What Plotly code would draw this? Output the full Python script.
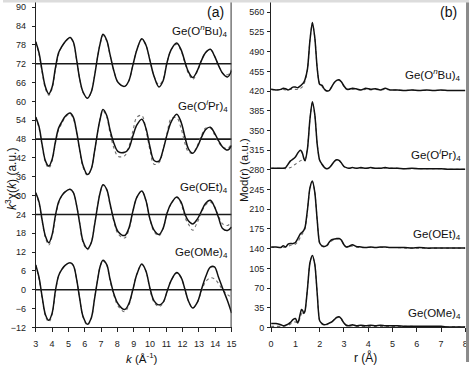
import plotly.graph_objects as go

W, H = 474, 367

# ---------------- Data: panel (a) k^3 chi(k) ----------------
K = [3.0, 3.2, 3.4, 3.6, 3.8, 4.0, 4.2, 4.4, 4.6, 4.8, 5.1, 5.3, 5.5, 5.7, 5.9, 6.17, 6.4, 6.6,
     6.8, 6.95, 7.12, 7.35, 7.55, 7.8, 8.05, 8.45, 8.7, 8.95, 9.2, 9.5, 9.75, 10.0, 10.25, 10.55,
     10.8, 11.05, 11.3, 11.64, 11.9, 12.15, 12.35, 12.62, 12.9, 13.15, 13.4, 13.7, 13.95, 14.2,
     14.45, 14.75, 15.0]

BU_EXP = [79.0, 75.5, 69.5, 64.5, 62.4, 64.5, 70.5, 75.5, 77.5, 79.0, 80.4, 79.0, 73.5, 67.0, 63.0,
          61.0, 63.0, 68.0, 74.5, 78.5, 81.4, 79.5, 75.0, 69.5, 66.0, 64.8, 66.5, 71.5, 76.5, 80.0,
          78.0, 73.0, 68.0, 64.6, 66.5, 72.5, 76.5, 78.6, 76.5, 72.5, 69.5, 67.6, 69.8, 73.0, 75.5,
          76.6, 74.5, 71.5, 69.0, 67.8, 69.8]
BU_FIT = [79.0, 75.0, 69.0, 64.0, 62.0, 64.0, 70.0, 75.0, 77.5, 79.0, 80.2, 78.8, 73.5, 67.0, 62.8,
          61.0, 63.0, 68.0, 74.5, 78.5, 81.0, 79.2, 74.8, 69.5, 66.0, 64.8, 66.5, 71.5, 76.5, 79.8,
          78.0, 73.0, 68.0, 65.3, 67.0, 72.5, 76.5, 78.2, 76.2, 72.0, 69.0, 67.0, 69.5, 73.0, 75.5,
          76.5, 74.5, 71.5, 69.0, 68.5, 70.2]

PR_EXP = [55.0, 52.0, 46.0, 41.0, 39.4, 41.5, 47.0, 51.5, 53.5, 55.2, 56.3, 55.0, 50.5, 44.5, 39.5,
          36.7, 38.5, 44.0, 50.5, 54.5, 57.4, 55.5, 51.0, 46.5, 44.0, 43.8, 45.0, 49.0, 52.5, 54.3,
          51.5, 45.5, 41.2, 41.0, 44.5, 49.5, 53.5, 55.9, 53.5, 48.5, 45.0, 43.5, 45.5, 48.5, 51.0,
          51.8, 50.0, 47.5, 45.5, 44.5, 46.0]
PR_FIT = [55.0, 51.5, 45.5, 40.5, 38.8, 41.0, 46.5, 51.0, 53.0, 55.0, 56.0, 54.5, 50.0, 44.0, 39.0,
          36.4, 38.5, 44.0, 50.5, 54.5, 57.0, 55.0, 50.0, 45.0, 42.5, 42.7, 45.5, 50.5, 55.0, 55.5,
          51.0, 44.5, 40.0, 40.5, 44.5, 50.0, 54.5, 54.8, 51.5, 46.5, 44.0, 43.5, 46.0, 49.0, 51.5,
          51.5, 49.5, 47.0, 45.5, 45.0, 46.5]

ET_EXP = [30.9, 28.0, 22.0, 17.0, 15.0, 17.5, 23.5, 28.0, 30.0, 31.2, 32.0, 31.0, 27.0, 21.0, 15.5,
          13.1, 15.0, 20.5, 27.0, 31.0, 33.5, 32.0, 27.5, 22.0, 18.5, 17.3, 19.5, 25.0, 29.5, 31.5,
          28.5, 22.5, 19.0, 17.6, 19.5, 24.5, 27.5, 29.6, 28.0, 24.0, 22.0, 21.0, 22.5, 25.0, 27.5,
          28.5, 26.5, 23.0, 19.5, 18.9, 20.0]
ET_FIT = [30.9, 27.5, 21.5, 16.5, 14.3, 17.0, 23.0, 27.5, 30.0, 31.2, 32.0, 31.0, 27.0, 21.0, 15.0,
          12.8, 15.0, 20.5, 27.0, 31.0, 33.3, 31.8, 27.0, 21.5, 17.8, 16.5, 19.0, 25.0, 29.5, 31.5,
          28.5, 22.5, 18.5, 17.2, 19.5, 24.5, 27.5, 29.4, 27.5, 23.0, 21.0, 19.0, 21.5, 24.5, 27.0,
          28.0, 26.5, 23.5, 21.0, 20.5, 21.5]

ME_EXP = [7.9, 4.0, -2.5, -8.0, -9.7, -7.5, -0.5, 4.5, 6.5, 7.8, 8.6, 7.8, 3.5, -3.0, -8.5,
          -11.0, -9.0, -3.0, 3.5, 7.5, 9.4, 8.0, 3.5, -1.5, -4.5, -6.3, -4.5, 0.0, 5.0, 8.2,
          6.0, 0.5, -3.5, -4.8, -4.0, -0.5, 3.0, 5.5, 4.0, 0.0, -3.5, -5.8, -4.0, 0.0, 4.0,
          7.2, 7.3, 4.0, 0.5, -3.5, -7.4]
ME_FIT = [7.9, 3.5, -3.0, -8.5, -10.2, -8.0, -1.0, 4.5, 6.5, 7.8, 8.6, 7.8, 3.5, -3.0, -8.8,
          -11.3, -9.2, -3.0, 3.5, 7.5, 9.2, 7.8, 3.0, -2.0, -5.2, -7.0, -5.0, 0.0, 5.0, 8.0,
          6.0, 0.0, -4.0, -5.3, -4.3, -0.5, 3.0, 5.3, 3.8, 0.0, -3.5, -5.8, -4.0, -0.5, 2.5,
          3.8, 3.5, 2.0, 0.0, -1.5, -2.5]

BASELINES_A = [72, 48, 24, 0]
YTICKS_A = list(range(-12, 91, 6))
XTICKS_A = list(range(3, 16))

# ---------------- Data: panel (b) Mod(r) ----------------
R = [0.0, 0.2, 0.4, 0.5, 0.6, 0.7, 0.8, 0.9, 1.0, 1.1, 1.2, 1.25, 1.3, 1.35, 1.4, 1.5, 1.6, 1.7,
     1.8, 1.9, 2.0, 2.1, 2.2, 2.3, 2.4, 2.5, 2.6, 2.7, 2.8, 2.9, 3.0, 3.1, 3.2, 3.35, 3.5, 3.7,
     3.9, 4.1, 4.3, 4.5, 4.7, 4.9, 5.2, 5.5, 5.8, 6.1, 6.4, 6.7, 7.0, 7.3, 7.6, 8.0]

BU_FT = [423, 422, 423, 425, 424, 422, 424, 427, 427, 426, 429, 431, 433, 436, 441, 460, 510, 542,
         515, 460, 432, 430, 423, 420, 421, 428, 435, 439, 440, 436, 429, 424, 423, 425, 424, 422,
         425, 423, 424, 422, 425, 422, 422, 421, 422, 421, 422, 421, 422, 421, 421, 421]
BU_FTFIT = [423, 422, 423, 423, 422, 422, 423, 424, 423, 423, 424, 426, 428, 432, 438, 458, 510, 541,
            515, 460, 432, 428, 422, 420, 421, 428, 435, 439, 439, 435, 428, 423, 422, 423, 423, 422,
            423, 422, 423, 422, 423, 422, 422, 421, 422, 421, 421, 421, 421, 421, 421, 421]

PR_FT = [283, 283, 283, 283, 284, 290, 296, 299, 303, 310, 315, 313, 308, 300, 296, 318, 370, 401,
         378, 325, 297, 290, 284, 282, 284, 289, 295, 298, 297, 292, 286, 284, 283, 284, 283, 284,
         283, 284, 283, 283, 284, 283, 283, 282, 283, 282, 282, 282, 282, 281, 281, 281]
PR_FTFIT = [283, 283, 283, 283, 282, 283, 284, 287, 290, 293, 296, 297, 298, 299, 300, 320, 370, 400,
            378, 325, 297, 289, 284, 282, 284, 289, 295, 298, 297, 292, 286, 283, 283, 283, 283, 283,
            283, 283, 283, 283, 283, 283, 283, 282, 282, 282, 282, 282, 282, 281, 281, 281]

ET_FT = [143, 143, 142, 145, 143, 148, 149, 149, 151, 158, 166, 168, 170, 173, 178, 210, 248, 260,
         240, 190, 150, 145, 144, 146, 152, 156, 157, 158, 158, 155, 147, 143, 144, 147, 144, 143,
         142, 143, 142, 143, 143, 142, 142, 142, 141, 142, 141, 141, 141, 141, 141, 141]
ET_FTFIT = [142, 142, 142, 142, 143, 144, 146, 147, 148, 152, 160, 164, 167, 171, 176, 208, 247, 259,
            240, 190, 150, 144, 143, 145, 150, 154, 156, 157, 157, 154, 146, 143, 143, 145, 143, 142,
            142, 142, 142, 142, 142, 142, 142, 141, 141, 141, 141, 141, 141, 141, 141, 141]

ME_FT = [7, 7, 5, 3, 4, 6, 9, 14, 16, 8, 24, 32, 30, 25, 30, 70, 115, 128, 112, 60, 12, 7, 5,
         6, 8, 10, 14, 18, 19, 15, 8, 4, 3, 5, 3, 4, 3, 4, 3, 4, 3, 3, 3, 2, 2, 2, 2, 2, 2, 1, 1, 1]
ME_FTFIT = [2, 2, 2, 2, 3, 4, 6, 9, 10, 8, 18, 24, 26, 24, 30, 70, 115, 127, 112, 60, 12, 6, 4,
            5, 8, 10, 14, 17, 18, 14, 7, 3, 2, 3, 2, 2, 2, 2, 2, 2, 2, 2, 2, 2, 2, 1, 1, 1, 1, 1, 1, 1]

YTICKS_B = list(range(0, 561, 35))
XTICKS_B = list(range(0, 9))

NAMES = ["Ge(O<sup><i>n</i></sup>Bu)<sub>4</sub>", "Ge(O<sup><i>i</i></sup>Pr)<sub>4</sub>",
         "Ge(OEt)<sub>4</sub>", "Ge(OMe)<sub>4</sub>"]

# ---------------- Figure ----------------
FONT = "Arial, Liberation Sans, sans-serif"
fig = go.Figure()

exp_a = [BU_EXP, PR_EXP, ET_EXP, ME_EXP]
fit_a = [BU_FIT, PR_FIT, ET_FIT, ME_FIT]
for b in BASELINES_A:
    fig.add_trace(go.Scatter(x=[K[0], K[-1]], y=[b, b], mode="lines",
                             line=dict(color="#1a1a1a", width=1.6), xaxis="x", yaxis="y",
                             showlegend=False, hoverinfo="skip"))
for ys in fit_a:
    fig.add_trace(go.Scatter(x=K, y=ys, mode="lines", xaxis="x", yaxis="y", showlegend=False,
                             line=dict(color="#707070", width=1.1, dash="dot", shape="spline",
                                       smoothing=1.0)))
for ys in exp_a:
    fig.add_trace(go.Scatter(x=K, y=ys, mode="lines", xaxis="x", yaxis="y", showlegend=False,
                             line=dict(color="#111111", width=1.5, shape="spline", smoothing=1.0)))

exp_b = [BU_FT, PR_FT, ET_FT, ME_FT]
fit_b = [BU_FTFIT, PR_FTFIT, ET_FTFIT, ME_FTFIT]
for ys in fit_b:
    fig.add_trace(go.Scatter(x=R, y=ys, mode="lines", xaxis="x2", yaxis="y2", showlegend=False,
                             line=dict(color="#707070", width=1.1, dash="dot", shape="spline",
                                       smoothing=0.7)))
for ys in exp_b:
    fig.add_trace(go.Scatter(x=R, y=ys, mode="lines", xaxis="x2", yaxis="y2", showlegend=False,
                             line=dict(color="#111111", width=1.5, shape="spline", smoothing=0.7)))

def px(x):
    return x / W

def py(y):
    return 1 - y / H

def axis_style(ticklen, standoff):
    return dict(showgrid=False, zeroline=False, showline=True, linecolor="#222222",
                linewidth=1, ticks="outside", ticklen=ticklen, tickcolor="#222222",
                tickfont=dict(family=FONT, size=9, color="#222222"),
                ticklabelstandoff=standoff)

ydom = [py(332), py(1)]
fig.update_layout(
    width=W, height=H, margin=dict(l=0, r=0, t=0, b=0),
    paper_bgcolor="white", plot_bgcolor="white",
    xaxis=dict(domain=[px(33.3), px(232.5)], range=[3, 15], tickvals=XTICKS_A, anchor="y",
               **axis_style(4, 4)),
    yaxis=dict(domain=ydom, range=[-12, 92], tickvals=YTICKS_A, anchor="x",
               **axis_style(3, 4)),
    xaxis2=dict(domain=[px(272.7), px(470.3)], range=[0, 8], tickvals=XTICKS_B, anchor="y2",
                **axis_style(4, 4)),
    yaxis2=dict(domain=ydom, range=[0, 580], tickvals=YTICKS_B, anchor="x2",
                **axis_style(3, 1)),
)

shapes = [
    dict(type="line", xref="paper", yref="paper", x0=px(232), x1=px(232), y0=py(332), y1=1,
         line=dict(color="#333333", width=1)),
    dict(type="line", xref="paper", yref="paper", x0=px(472.5), x1=px(472.5), y0=0, y1=1,
         line=dict(color="#8a8a8a", width=3)),
    dict(type="rect", xref="paper", yref="paper", x0=0, x1=1, y0=py(2.5), y1=1,
         line=dict(width=0), fillcolor="#dcdcdc"),
]
fig.update_layout(shapes=shapes)

ann = []
def txt(x, y, s, size=12, xanchor="center", angle=0):
    ann.append(dict(x=px(x), y=py(y), xref="paper", yref="paper", text=s, showarrow=False,
                    xanchor=xanchor, yanchor="middle", textangle=angle,
                    font=dict(family=FONT, size=size, color="#111111")))

txt(216, 12, "(a)", size=14)
txt(453.5, 12, "(b)", size=14)
lab_a_y = [31.5, 107.5, 190.5, 256]
lab_b_y = [76, 157, 238.5, 318.5]
for name, ya, yb in zip(NAMES, lab_a_y, lab_b_y):
    txt(231, ya, name, size=11.5, xanchor="right")
    txt(467.5, yb, name, size=11.5, xanchor="right")

txt(7.5, 181, "<i>k</i><sup>3</sup>χ(<i>k</i>) (a.u.)", size=12, angle=-90)
txt(244.5, 172, "Mod(r) (a.u.)", size=11.5, angle=-90)
txt(141.5, 362.5, "<i>k</i> (Å<sup>-1</sup>)", size=11.5)
txt(369, 362.5, "r (Å)", size=12)
fig.update_layout(annotations=ann)

fig.write_html("out.html", config={"displayModeBar": False},
               post_script="document.body.style.margin='0px';document.body.style.overflow='hidden';")
